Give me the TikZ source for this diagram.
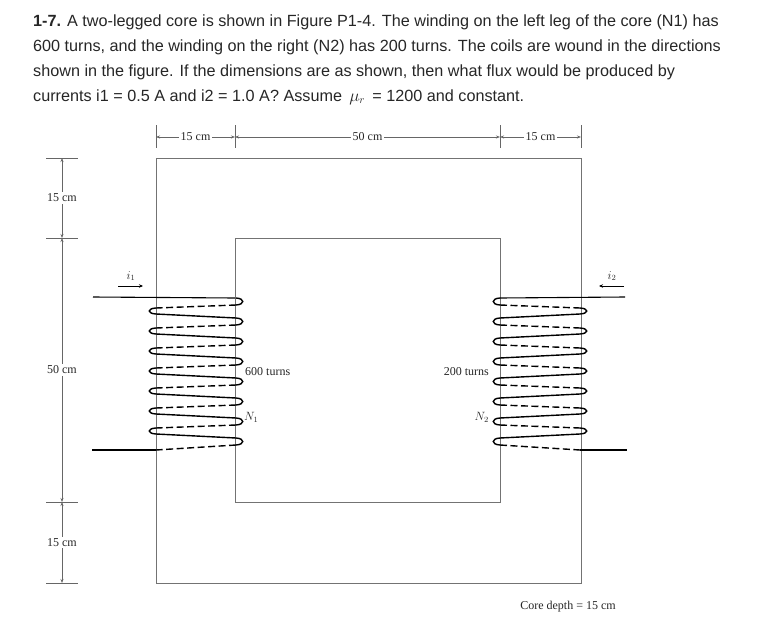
\documentclass[tikz,border=0pt]{standalone}
\usepackage{fontspec}
\setmainfont{Liberation Serif}
\setsansfont{Liberation Sans}
\usetikzlibrary{arrows.meta}
\newcommand\coil[2]{%
 % #1 near-side x, #2 direction (+1 left coil, -1 right coil)
 \pgfmathsetmacro\N{#1}\pgfmathsetmacro\F{#1+80*#2}%
 \pgfmathsetmacro\Fb{\F+9*#2}\pgfmathsetmacro\Nb{\N-9*#2}%
 \foreach \k in {0,...,7}{%
  \pgfmathsetmacro\y{297+20*\k}%
  \ifnum\k>0 \draw[wire] (\N,\y-3) -- (\F,\y+1);\fi
  \draw[wire] (\F,\y+1) .. controls (\Fb,\y+1.5) and (\Fb,\y+7.5) .. (\F,\y+8);
  \ifnum\k<7
   \draw[wire,backdash] (\F,\y+8) -- (\N,\y+11);
   \draw[wire] (\N,\y+11) .. controls (\Nb,\y+11.5) and (\Nb,\y+16.5) .. (\N,\y+17);
  \else
   \draw[wire,backdash] (\F,\y+8) -- (\N,\y+13);
  \fi
 }}
\begin{document}
\begin{tikzpicture}[x=1pt,y=-1pt,
 core/.style={draw=black!55,line width=0.9pt},
 wire/.style={black,line width=1.4pt},
 backdash/.style={dash pattern=on 7pt off 3.5pt},
 lead/.style={black,line width=1.1pt},
 dimln/.style={black!60,line width=0.8pt},
 dimtick/.style={black!60,line width=0.8pt},
 lbl/.style={font=\fontsize{12}{14}\selectfont,inner sep=1pt,text=black!85},
 dlbl/.style={font=\fontsize{12}{14}\selectfont,fill=white,inner sep=1.5pt,text=black!85},
 body/.style={font=\sffamily\fontsize{16.2}{19}\selectfont,anchor=base west,inner sep=0pt,text=black!85}]
\useasboundingbox (0,0) rectangle (757,637);
% text
\node[body] (t1) at (33,26) {\textbf{1-7.} A two-legged core is shown in Figure P1-4. The winding on the left leg of the core (N1) has};
\node[body] (t2) at (33,51) {600 turns, and the winding on the right (N2) has 200 turns. The coils are wound in the directions};
\node[body] (t3) at (33,76) {shown in the figure. If the dimensions are as shown, then what flux would be produced by};
\node[body] (t4) at (33,101) {currents i1 = 0.5 A and i2 = 1.0 A? Assume \,$\mu_r$\, = 1200 and constant.};
% core
\draw[core] (156,158) rectangle (581,583);
\draw[core] (235,238) rectangle (500,502);
% top dimensions
\foreach \x/\n in {156/ta,235/tb,500/tc,581/td}{\coordinate (\n) at (\x,137); \draw[dimtick] (\x,125) -- (\x,148);}
\draw[dimln,{Stealth[length=4pt,width=3pt]}-{Stealth[length=4pt,width=3pt]}] (ta) -- node[dlbl] {15 cm} (tb);
\draw[dimln,{Stealth[length=4pt,width=3pt]}-{Stealth[length=4pt,width=3pt]}] (tb) -- node[dlbl] {50 cm} (tc);
\draw[dimln,{Stealth[length=4pt,width=3pt]}-{Stealth[length=4pt,width=3pt]}] (tc) -- node[dlbl] {15 cm} (td);
% left dimensions
\foreach \y/\n in {158/la,238/lb,502/lc,583/ld}{\coordinate (\n) at (62,\y); \draw[dimtick] (46,\y) -- (78,\y);}
\draw[dimln,{Stealth[length=4pt,width=3pt]}-{Stealth[length=4pt,width=3pt]}] (la) -- node[dlbl] {15 cm} (lb);
\draw[dimln,{Stealth[length=4pt,width=3pt]}-{Stealth[length=4pt,width=3pt]}] (lb) -- node[dlbl] {50 cm} (lc);
\draw[dimln,{Stealth[length=4pt,width=3pt]}-{Stealth[length=4pt,width=3pt]}] (lc) -- node[dlbl] {15 cm} (ld);
% coils
\coil{156}{1}
\coil{580}{-1}
\draw[lead] (93,297) -- (235,298);
\draw[lead] (156,450) -- (92,450);
\draw[lead] (625,297) -- (500,298);
\draw[lead] (580,450) -- (627,450);
% currents
\coordinate (i1a) at (118,286); \coordinate (i1b) at (143,286);
\draw[line width=0.9pt,-{Stealth[length=4pt,width=3.5pt]}] (i1a) -- (i1b);
\node[lbl] (i1) at (131,276) {$i_1$};
\coordinate (i2a) at (624,286); \coordinate (i2b) at (599,286);
\draw[line width=0.9pt,-{Stealth[length=4pt,width=3.5pt]}] (i2a) -- (i2b);
\node[lbl] (i2) at (612,276) {$i_2$};
% labels
\node[lbl,anchor=west] (n1t) at (244,372) {600 turns};
\node[lbl,anchor=west] (n1) at (243,417) {$N_1$};
\node[lbl,anchor=east] (n2t) at (490,372) {200 turns};
\node[lbl,anchor=east] (n2) at (490,417) {$N_2$};
\node[lbl] (depth) at (568,607) {Core depth = 15 cm};
\end{tikzpicture}
\end{document}
